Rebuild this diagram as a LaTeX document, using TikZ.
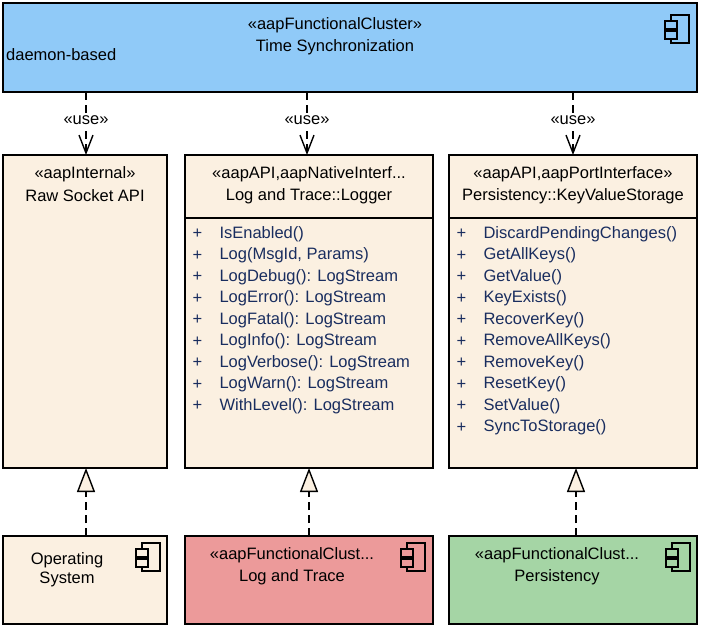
\documentclass[tikz,border=0pt]{standalone}
\usepackage{fontspec}
\setmainfont{Liberation Sans}
\usetikzlibrary{arrows.meta}
\definecolor{clusterblue}{RGB}{144,202,248}
\definecolor{ifbeige}{RGB}{251,240,225}
\definecolor{logred}{RGB}{236,154,154}
\definecolor{persgreen}{RGB}{165,213,165}
\definecolor{opblue}{RGB}{25,45,95}
\newcommand{\compicon}[3]{%
  \draw[line width=1.8pt] (#1,#2) rectangle ++(18,28);
  \draw[line width=1.8pt,fill=#3] (#1-6,#2+6) rectangle ++(12,8);
  \draw[line width=1.8pt,fill=#3] (#1-6,#2+16) rectangle ++(12,8);}
\begin{document}
\begin{tikzpicture}[x=1pt,y=-1pt,font=\fontsize{16.5}{19}\selectfont,
  box/.style={draw,line width=1.4pt},
  use/.style={dashed,dash pattern=on 8pt off 5pt,line width=1.4pt,-{Straight Barb[length=18pt,width=14pt]}},
  real/.style={dashed,dash pattern=on 8pt off 5pt,line width=1.4pt,-{Triangle[open,fill=ifbeige,length=24pt,width=18pt]}},
  op/.style={anchor=west,text=opblue}]
  \useasboundingbox (0,0) rectangle (702,629);

  % functional cluster
  \draw[box,fill=clusterblue] (3,3) rectangle (697,92);
  \node at (335,25) {«aapFunctionalCluster»};
  \node at (335,47) {Time Synchronization};
  \node[anchor=west,inner sep=0pt] at (6,55) {daemon-based};
  \compicon{671}{15}{clusterblue}

  % interfaces
  \draw[box,fill=ifbeige] (3,155) rectangle (167,468);
  \draw[box,fill=ifbeige] (185,155) rectangle (433,468);
  \draw[box,fill=ifbeige] (449,155) rectangle (697,468);
  \draw[line width=1.4pt] (185,218) -- (433,218);
  \draw[line width=1.4pt] (449,218) -- (697,218);
  \node at (85,174) {«aapInternal»};
  \node at (85,196) {Raw Socket API};
  \node at (309,174) {«aapAPI,aapNativeInterf...};
  \node at (309,196) {Log and Trace::Logger};
  \node at (573,174) {«aapAPI,aapPortInterface»};
  \node at (573,196) {Persistency::KeyValueStorage};
  \foreach \t [count=\i from 0] in {IsEnabled(),{Log(MsgId, Params)},
      LogDebug(): LogStream,LogError(): LogStream,LogFatal(): LogStream,
      LogInfo(): LogStream,LogVerbose(): LogStream,LogWarn(): LogStream,
      WithLevel(): LogStream}{
    \node[op] at (189,234+21.5*\i) {+};
    \node[op] at (216,234+21.5*\i) {\t};}
  \foreach \t [count=\i from 0] in {DiscardPendingChanges(),GetAllKeys(),
      GetValue(),KeyExists(),RecoverKey(),RemoveAllKeys(),RemoveKey(),
      ResetKey(),SetValue(),SyncToStorage()}{
    \node[op] at (453,234+21.5*\i) {+};
    \node[op] at (480,234+21.5*\i) {\t};}

  % components
  \draw[box,fill=ifbeige] (3,536) rectangle (167,624);
  \draw[box,fill=logred] (185,536) rectangle (433,624);
  \draw[box,fill=persgreen] (449,536) rectangle (697,624);
  \node[align=center] at (67,570) {Operating\\System};
  \compicon{142}{543}{ifbeige}
  \node at (292,555) {«aapFunctionalClust...};
  \node at (292,577) {Log and Trace};
  \compicon{407}{543}{logred}
  \node at (557,555) {«aapFunctionalClust...};
  \node at (557,577) {Persistency};
  \compicon{672}{543}{persgreen}

  % dependencies
  \foreach \x in {86,307,573}{
    \draw[use] (\x,92) -- (\x,155);
    \node[fill=white,inner sep=1pt] at (\x,120) {«use»};}
  \foreach \x in {86,309,576}
    \draw[real] (\x,536) -- (\x,468);
\end{tikzpicture}
\end{document}
